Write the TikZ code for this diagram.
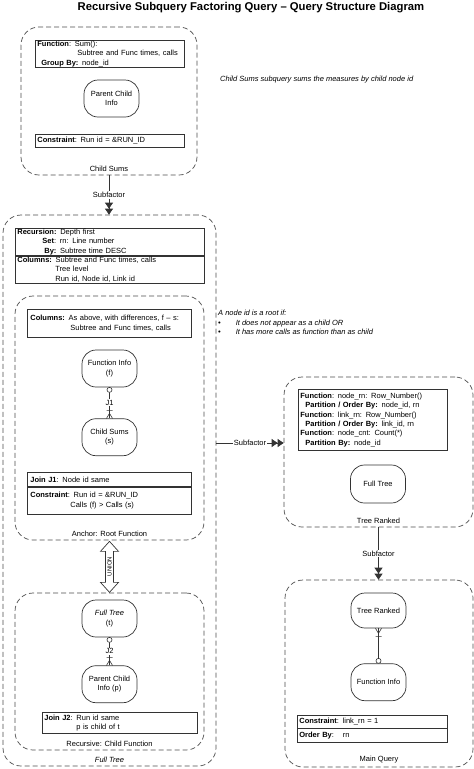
\documentclass[tikz,border=0pt]{standalone}
\usepackage{fontspec}
\setmainfont{Liberation Sans}
\usetikzlibrary{arrows.meta,positioning}

\newcommand{\qsdfont}{\fontsize{7.5}{9.3}\selectfont}

\tikzset{
  grp/.style={draw=black!70, dash pattern=on 5pt off 3pt, rounded corners=18pt, line width=0.7pt},
  grplbl/.style={above=3pt, inner sep=1pt},
  oval/.style={draw=black!80, rounded corners=14pt, minimum width=55pt, minimum height=37pt, align=center, line width=0.7pt, inner sep=1pt},
  tbox/.style={draw=black!80, anchor=north west, align=left, inner xsep=2pt, inner ysep=0pt, line width=0.7pt},
  lbl/.style={fill=white, inner sep=1pt},
  sub/.style={draw=black!80, line width=0.7pt, -{Triangle[length=6pt,width=8pt] Triangle[length=6pt,width=8pt]}},
  link/.style={draw=black!80, line width=0.6pt},
  note/.style={anchor=west, font=\qsdfont\itshape, inner sep=0pt}
}

\begin{document}
\begin{tikzpicture}[x=1pt,y=-1pt,font=\qsdfont]
\useasboundingbox (0,0) rectangle (474,769);

\node[font=\bfseries\fontsize{11.3}{12}\selectfont] (title) at (251,8) {Recursive Subquery Factoring Query -- Query Structure Diagram};

% groups
\node[grp, minimum width=176pt, minimum height=148pt] (childsums) at (109,101) {};
\node[grp, minimum width=213pt, minimum height=551pt] (fulltree) at (109.5,490.5) {};
\node[grp, minimum width=189pt, minimum height=244pt] (anchor) at (109.5,418) {};
\node[grp, minimum width=189pt, minimum height=157pt] (recursive) at (109.5,671.5) {};
\node[grp, minimum width=189pt, minimum height=150pt] (treeranked) at (378.5,452) {};
\node[grp, minimum width=188pt, minimum height=187pt] (mainquery) at (379,673.5) {};

\node[grplbl] (cslbl) at (childsums.south) {Child Sums};
\node[grplbl, font=\qsdfont\itshape] (ftlbl) at (fulltree.south) {Full Tree};
\node[grplbl] (anlbl) at (anchor.south) {Anchor: Root Function};
\node[grplbl] (rclbl) at (recursive.south) {Recursive: Child Function};
\node[grplbl] (trlbl) at (treeranked.south) {Tree Ranked};
\node[grplbl] (mqlbl) at (mainquery.south) {Main Query};

% Child Sums
\node[tbox, text width=145pt, minimum height=27pt] (csfn) at (35,40) {\textbf{Function}: Sum():\\\hspace*{40pt}Subtree and Func times, calls\\\hspace*{4pt}\textbf{Group By:} node\_id};
\node[oval] (pci) at (111.5,98.5) {Parent Child\\Info};
\node[tbox, text width=145pt, minimum height=13pt] (cscon) at (35,134) {\textbf{Constraint}: Run id = \&RUN\_ID};

% Full Tree
\node[tbox, text width=185pt, minimum height=27pt] (recn) at (15,228) {\textbf{Recursion:} Depth first\\\hspace*{25pt}\textbf{Set}: rn: Line number\\\hspace*{27pt}\textbf{By:} Subtree time DESC};
\node[tbox, text width=185pt, minimum height=27pt] (rcols) at (recn.south west) {\textbf{Columns:} Subtree and Func times, calls\\\hspace*{38pt}Tree level\\\hspace*{38pt}Run id, Node id, Link id};

% Anchor
\node[tbox, text width=160pt, minimum height=28pt] (acols) at (27,309) {\hspace*{1pt}\textbf{Columns:} As above, with differences, f -- s:\\\hspace*{41pt}Subtree and Func times, calls};
\node[oval] (fi) at (109.5,368.5) {Function Info\\(f)};
\node[oval, below=31pt of fi] (cs) {Child Sums\\(s)};
\node[tbox, text width=160pt, minimum height=14pt] (j1) at (27,472) {\hspace*{1pt}\textbf{Join J1}: Node id same};
\node[tbox, text width=160pt, minimum height=27pt] (j1con) at (j1.south west) {\hspace*{1pt}\textbf{Constraint}: Run id = \&RUN\_ID\\\hspace*{41pt}Calls (f) > Calls (s)};

\draw[link] (fi) -- node[lbl]{J1} (cs);
\draw[link, fill=white] ([yshift=-2.5pt]fi.south) circle[radius=2.5pt];
\draw[link] ([yshift=5pt]cs.north) -- ([xshift=-3pt]cs.north) ([yshift=5pt]cs.north) -- ([xshift=3pt]cs.north) ([shift={(-3pt,8pt)}]cs.north) -- ([shift={(3pt,8pt)}]cs.north);

% UNION
\draw[link, line width=0.7pt, fill=white] ([yshift=-1pt]anchor.south) -- ++(9,10) -- ++(-5,0) -- ++(0,31) -- ++(5,0) -- ++(-9,10) -- ++(-9,-10) -- ++(5,0) -- ++(0,-31) -- ++(-5,0) -- cycle;
\node[rotate=90, inner sep=0pt, font=\fontsize{6}{7}\selectfont] (union) at (109.5,566.5) {UNION};

% Recursive
\node[oval] (ft) at (109.5,618.5) {\textit{Full Tree}\\(t)};
\node[oval, below=28pt of ft] (pcp) {Parent Child\\Info (p)};
\node[tbox, text width=151pt, minimum height=21pt] (j2) at (42,712) {\textbf{Join J2}: Run id same\\\hspace*{32pt}p is child of t};

\draw[link] (ft) -- node[lbl]{J2} (pcp);
\draw[link, fill=white] ([yshift=-2.5pt]ft.south) circle[radius=2.5pt];
\draw[link] ([yshift=5pt]pcp.north) -- ([xshift=-3pt]pcp.north) ([yshift=5pt]pcp.north) -- ([xshift=3pt]pcp.north) ([shift={(-3pt,8pt)}]pcp.north) -- ([shift={(3pt,8pt)}]pcp.north);

% Tree Ranked
\node[tbox, text width=145pt, minimum height=61pt] (trfn) at (298,389) {\textbf{Function}: node\_rn: Row\_Number()\\\hspace*{5pt}\textbf{Partition / Order By:} node\_id, rn\\\textbf{Function}: link\_rn: Row\_Number()\\\hspace*{5pt}\textbf{Partition / Order By:} link\_id, rn\\\textbf{Function}: node\_cnt: Count(*)\\\hspace*{5pt}\textbf{Partition By:} node\_id};
\node[oval, minimum height=38pt] (ftr) at (378,484) {Full Tree};

% Main Query
\node[oval, minimum height=35pt] (trk) at (378.5,610.5) {Tree Ranked};
\node[oval, below=35pt of trk] (fin) {Function Info};
\node[tbox, text width=146pt, minimum height=12.5pt] (mqcon) at (297,715) {\textbf{Constraint}: link\_rn = 1};
\node[tbox, text width=146pt, minimum height=14pt] (mqord) at (mqcon.south west) {\textbf{Order By}:\hspace*{9pt}rn};

\draw[link] (trk) -- (fin);
\draw[link] ([yshift=-5pt]trk.south) -- ([xshift=-3pt]trk.south) ([yshift=-5pt]trk.south) -- ([xshift=3pt]trk.south) ([shift={(-3pt,-8pt)}]trk.south) -- ([shift={(3pt,-8pt)}]trk.south);
\draw[link, fill=white] ([yshift=2.5pt]fin.north) circle[radius=2.5pt];

% subfactor links
\coordinate (sfy) at (250,443);
\draw[sub] (childsums.south) -- node[lbl]{Subfactor} (childsums.south |- fulltree.north);
\draw[sub] (fulltree.east |- sfy) -- node[lbl]{Subfactor} (treeranked.west |- sfy);
\draw[sub] (treeranked.south) -- node[lbl]{Subfactor} (treeranked.south |- mainquery.north);

% notes
\node[note] (n1) at (220,80) {Child Sums subquery sums the measures by child node id};
\node[note, align=left] (n2) at (218,322.5) {A node id is a root if:\\\textbullet\hspace*{15pt}It does not appear as a child OR\\\textbullet\hspace*{15pt}It has more calls as function than as child};
\end{tikzpicture}
\end{document}
